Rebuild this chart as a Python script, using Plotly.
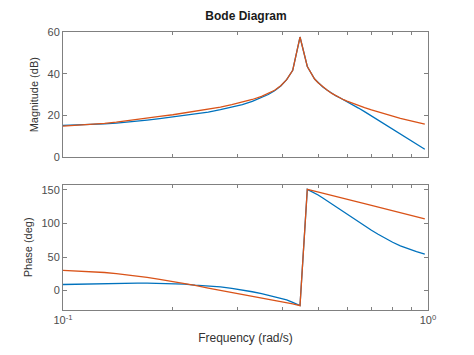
import plotly.graph_objects as go

# Frequency samples (rad/s)
freq = [0.1, 0.11, 0.12, 0.13, 0.14, 0.15, 0.16, 0.17, 0.184, 0.2,
        0.215, 0.23, 0.25, 0.27, 0.29, 0.31, 0.33, 0.35, 0.365, 0.38,
        0.395, 0.41, 0.426, 0.446, 0.467, 0.489, 0.5, 0.515, 0.53, 0.545,
        0.56, 0.575, 0.587, 0.6, 0.62, 0.645, 0.67, 0.7, 0.73, 0.76,
        0.8, 0.84, 0.88, 0.93, 0.98]

# Magnitude (dB)
mag_orange = [15.0, 15.4, 15.8, 16.3, 16.9, 17.5, 18.1, 18.8, 19.6, 20.4,
              21.2, 21.9, 22.9, 24.0, 25.2, 26.4, 27.7, 29.2, 30.5, 32.1,
              34.3, 37.2, 41.7, 57.6, 43.5, 37.5, 35.7, 33.7, 32.1, 30.6,
              29.4, 28.4, 27.6, 26.9, 25.9, 24.8, 23.8, 22.7, 21.7, 20.8,
              19.7, 18.7, 17.8, 16.8, 15.9]
mag_blue = [15.3, 15.5, 15.7, 16.0, 16.4, 16.8, 17.3, 17.8, 18.5, 19.3,
            20.1, 20.8, 21.7, 22.8, 24.0, 25.3, 26.8, 28.6, 30.1, 31.9,
            34.2, 37.2, 41.7, 57.6, 43.5, 37.5, 35.7, 33.7, 32.1, 30.6,
            29.4, 28.4, 27.6, 26.6, 25.3, 23.6, 21.9, 19.8, 17.8, 15.8,
            13.3, 10.9, 8.7, 6.1, 3.9]

# Phase (deg)
ph_orange = [30.0, 29.1, 28.0, 26.9, 25.4, 23.6, 21.6, 19.6, 16.6, 13.4,
             10.3, 7.6, 3.6, 0.2, -2.9, -5.8, -8.4, -10.8, -12.5, -14.1,
             -15.7, -17.6, -19.8, -22.5, 151.0, 148.3, 146.9, 145.2, 143.5, 141.8,
             140.2, 138.6, 137.4, 136.1, 134.2, 131.8, 129.6, 127.0, 124.5, 122.1,
             119.0, 116.2, 113.4, 110.1, 107.0]
ph_blue = [9.0, 9.6, 10.1, 10.5, 10.8, 11.0, 11.1, 11.1, 10.9, 10.4,
           9.6, 8.0, 7.1, 5.4, 3.4, 1.0, -1.8, -4.6, -6.8, -9.0,
           -11.4, -14.0, -17.6, -22.5, 151.0, 146.0, 142.5, 138.0, 133.5, 129.0,
           124.5, 120.0, 116.5, 113.5, 108.5, 102.5, 96.5, 90.0, 84.0, 78.5,
           72.0, 66.8, 62.5, 58.2, 54.5]

x_tickvals = [0.1, 1]
x_ticktext = ["10<sup>-1</sup>", "10<sup>0</sup>"]
x_minor = [0.2, 0.3, 0.4, 0.5, 0.6, 0.7, 0.8, 0.9]
mag_ticks = [0, 20, 40, 60]
ph_ticks = [0, 50, 100, 150]

BLUE = "#0072BD"
ORANGE = "#D95319"
AX = "#808080"
TXT = "#4d4d4d"
FONT = "Liberation Sans, Arial, sans-serif"

fig = go.Figure()
fig.add_trace(go.Scatter(x=freq, y=mag_blue, mode="lines",
                         line=dict(color=BLUE, width=1.3), xaxis="x", yaxis="y"))
fig.add_trace(go.Scatter(x=freq, y=mag_orange, mode="lines",
                         line=dict(color=ORANGE, width=1.3), xaxis="x", yaxis="y"))
fig.add_trace(go.Scatter(x=freq, y=ph_blue, mode="lines",
                         line=dict(color=BLUE, width=1.3), xaxis="x2", yaxis="y2"))
fig.add_trace(go.Scatter(x=freq, y=ph_orange, mode="lines",
                         line=dict(color=ORANGE, width=1.3), xaxis="x2", yaxis="y2"))

common_x = dict(type="log", range=[-1, 0], tickmode="array", tickvals=x_tickvals,
                ticktext=x_ticktext, ticks="inside", ticklen=4, tickcolor=AX,
                showline=True, linecolor=AX, linewidth=1, mirror="ticks",
                showgrid=False, zeroline=False,
                minor=dict(tickmode="array", tickvals=x_minor, ticks="inside",
                           ticklen=3, tickcolor=AX, showgrid=False),
                tickfont=dict(size=11, color=TXT, family=FONT))
common_y = dict(ticks="inside", ticklen=4, tickcolor=AX, showline=True,
                linecolor=AX, linewidth=1, mirror="ticks", showgrid=False,
                zeroline=False, tickfont=dict(size=11, color=TXT, family=FONT))

fig.update_layout(
    width=474, height=355,
    margin=dict(l=63, r=46, t=32, b=45),
    paper_bgcolor="white", plot_bgcolor="white",
    showlegend=False,
    hovermode=False,
    font=dict(family=FONT, color=TXT),
    title=dict(text="<b>Bode Diagram</b>", x=0.519, xanchor="center",
               y=1 - 16 / 355, yanchor="middle",
               font=dict(size=12, color="#1a1a1a", family=FONT)),
    xaxis=dict(common_x, anchor="y", domain=[0, 1], showticklabels=False),
    yaxis=dict(common_y, domain=[0.549, 1.0], range=[0, 60],
               tickvals=mag_ticks,
               title=dict(text="Magnitude (dB)", standoff=6,
                          font=dict(size=11, color="#333333", family=FONT))),
    xaxis2=dict(common_x, anchor="y2", domain=[0, 1],
                title=dict(text="Frequency (rad/s)", standoff=8,
                           font=dict(size=12, color="#333333", family=FONT))),
    yaxis2=dict(common_y, domain=[0, 0.451], range=[-29, 158],
                tickvals=ph_ticks,
                title=dict(text="Phase (deg)", standoff=6,
                           font=dict(size=11, color="#333333", family=FONT))),
)

fig.write_html("out.html", config={"displayModeBar": False},
               post_script="document.body.style.margin='0';")
